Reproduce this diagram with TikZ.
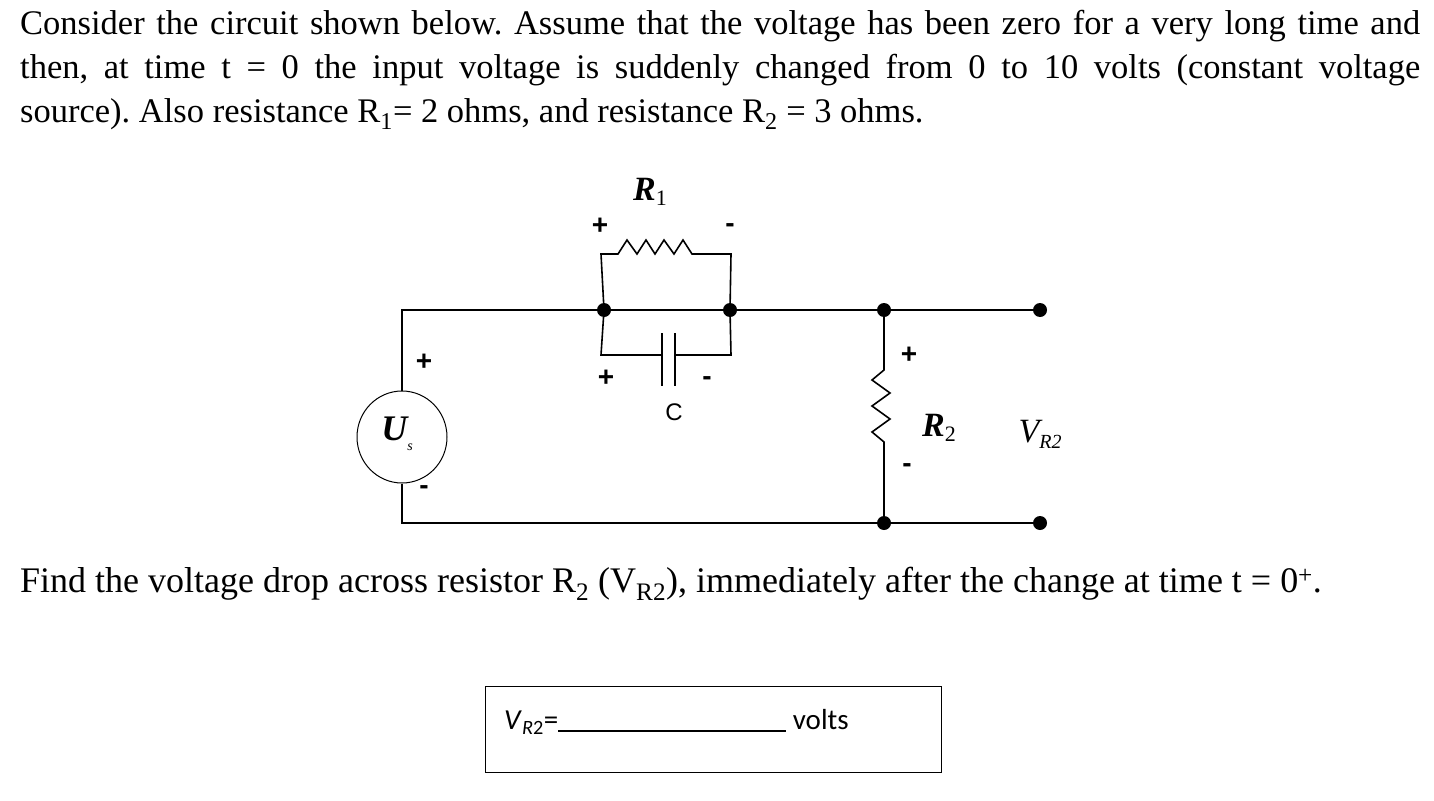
\documentclass[tikz,border=0pt]{standalone}
\usepackage{fontspec}
\setmainfont{Liberation Serif}
\setsansfont{Liberation Sans}
\newfontfamily\carlitofont{Carlito}
\usetikzlibrary{shapes.geometric}
\frenchspacing
\begin{document}
\begin{tikzpicture}[x=1pt,y=-1pt,
  wire/.style={line width=1.6pt},
  dot/.style={circle,fill=black,inner sep=0pt,minimum width=11pt,minimum height=14pt},
  sgn/.style={font=\fontsize{28}{28}\selectfont\sffamily\bfseries},
  lbl/.style={font=\fontsize{34}{34}\selectfont\itshape\bfseries}]
\useasboundingbox (0,0) rectangle (1434,800);
\node[anchor=north west,inner sep=0pt,text width=1400pt,align=justify,font=\fontsize{34.5}{44}\selectfont] (txt) at (20,10)
 {Consider the circuit shown below. Assume that the voltage has been zero for a very long time and\linebreak then, at time t = 0 the input voltage is suddenly changed from 0 to 10 volts (constant voltage\linebreak source). Also resistance R\textsubscript{1}= 2 ohms, and resistance R\textsubscript{2} = 3 ohms.};
% nodes
\node[dot] (a) at (604,310) {};
\node[dot] (b) at (730,310) {};
\node[dot] (c) at (884,310) {};
\node[dot] (d) at (1040,310) {};
\node[dot] (e) at (884,523) {};
\node[dot] (f) at (1040,523) {};
\node[draw,ellipse,line width=1pt,minimum width=90pt,minimum height=92pt,inner sep=0pt] (us) at (402,437) {};
\node[font=\fontsize{36}{36}\selectfont\itshape\bfseries] (ul) at (397,434) {U\raisebox{-10pt}{\fontsize{14}{14}\selectfont\mdseries s}};
\coordinate (tl) at (402,310);
\coordinate (bl) at (402,523);
\draw[wire] (us.north) -- (tl) -- (a) -- (b) -- (c) -- (d);
\draw[wire] (us.south) -- (bl) -- (e) -- (f);
% R1 branch
\coordinate (r1a) at (601,254); \coordinate (r1b) at (731,254);
\draw[wire] (a) -- (r1a) -- (618,254)
  -- (627,240) -- (637,254) -- (646,240) -- (655,254) -- (664,240) -- (674,254) -- (683,240) -- (692,254) -- (705,254) -- (r1b) -- (b);
% C branch
\coordinate (ca) at (601,355); \coordinate (cb) at (731,355);
\draw[wire] (a) -- (ca) -- (662,355);
\draw[wire] (675,355) -- (cb) -- (b);
\draw[line width=1.8pt] (662,333) -- (662,386) (675,333) -- (675,386);
% R2
\draw[wire] (c) -- (884,354) -- (884,370) -- (872,380) -- (890,393) -- (872,406) -- (890,419) -- (872,432) -- (884,442) -- (884,455) -- (e);
% signs
\node[sgn] at (424,362) {+}; \node[sgn] at (424,490) {-};
\node[sgn] at (600,226) {+}; \node[sgn] at (730,228) {-};
\node[sgn] at (606,378) {+}; \node[sgn] at (707,381) {-};
\node[sgn] at (909,355) {+}; \node[sgn] at (907,468) {-};
\node[font=\fontsize{24}{24}\selectfont\sffamily] at (674,412) {C};
\node[lbl] at (650,192) {R\raisebox{-5pt}{\mdseries\upshape\fontsize{22}{22}\selectfont 1}};
\node[lbl] at (939,428) {R\raisebox{-5pt}{\mdseries\upshape\fontsize{22}{22}\selectfont 2}};
\node[font=\fontsize{34}{34}\selectfont\itshape] at (1040,434) {V\raisebox{-6pt}{\fontsize{20}{20}\selectfont R2}};
\node[anchor=west,inner sep=0pt,font=\fontsize{36}{36}\selectfont] (q) at (20,584)
 {Find the voltage drop across resistor R\textsubscript{2} (V\textsubscript{R2}), immediately after the change at time t = 0\textsuperscript{+}.};
\node[draw,line width=1pt,minimum width=456pt,minimum height=86pt,inner sep=0pt] (box) at (713,729) {};
\node[anchor=west,inner sep=0pt,font=\fontsize{29}{29}\selectfont\carlitofont] (ans) at (504,722)
 {\textit{V}\textsubscript{\textit{R}2}=\rule[-2pt]{228pt}{1.3pt} volts};
\end{tikzpicture}
\end{document}
